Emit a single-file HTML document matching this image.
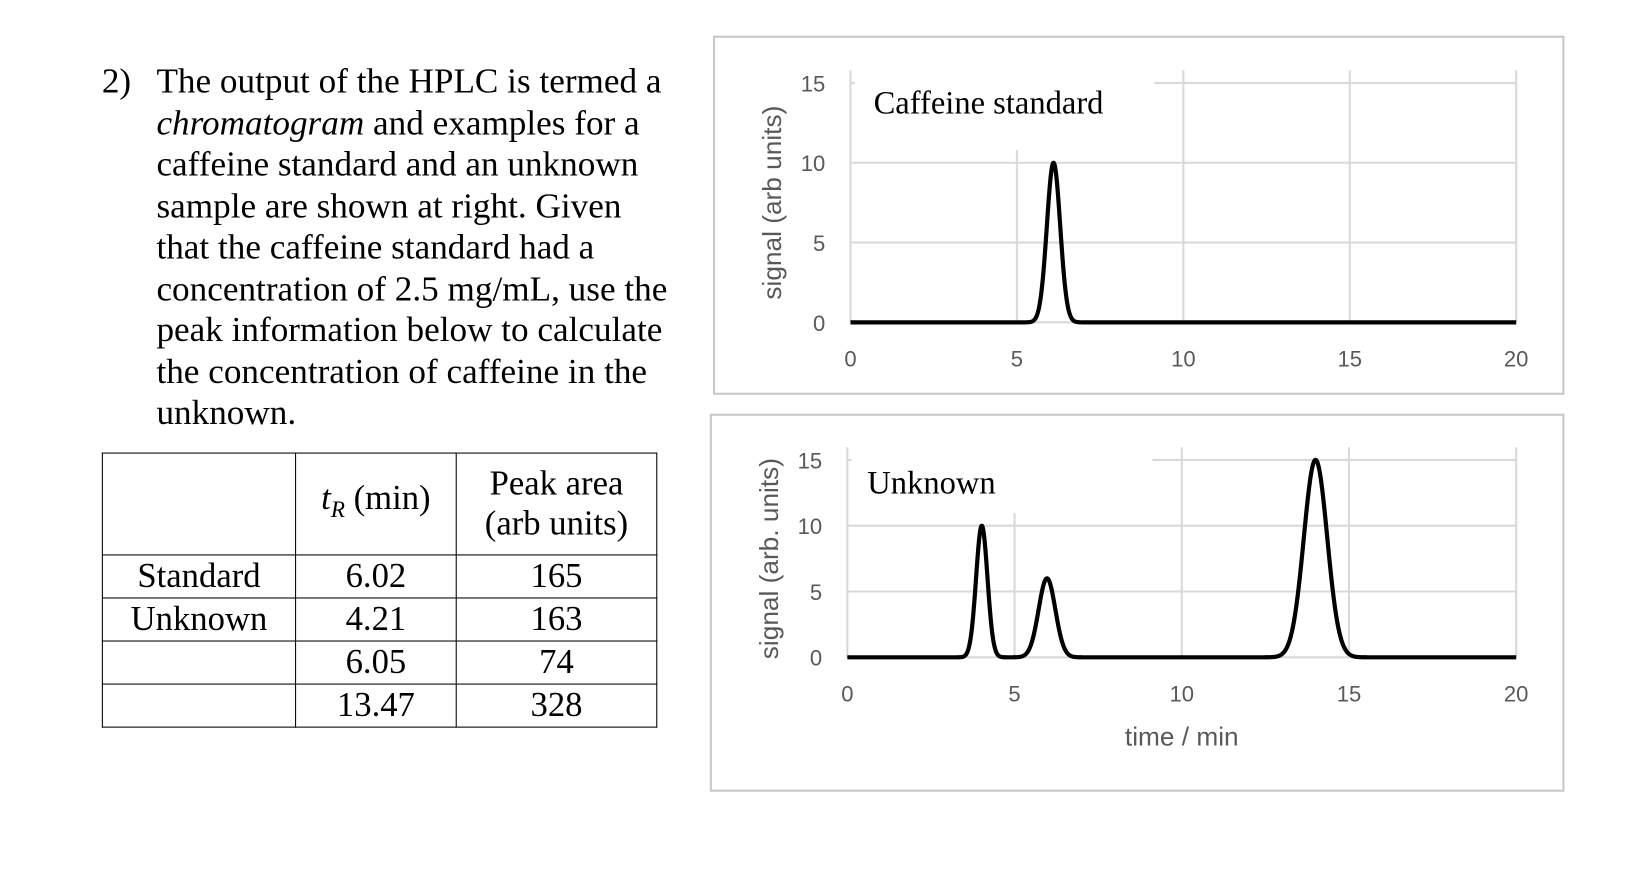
<!DOCTYPE html>
<html><head><meta charset="utf-8"><style>
body{margin:0;width:1646px;height:884px;background:#fff;position:relative;overflow:hidden;font-family:"Liberation Serif",serif;color:#000}
#wrap{position:absolute;left:0;top:0;width:1568px;height:842px;transform:scale(1.05);transform-origin:0 0}
.q{position:absolute;left:97px;top:58px;font-size:33.5px;line-height:39.5px}
.q .n{position:absolute;left:0;top:0}
.q .t{position:absolute;left:52px;top:0;width:560px;white-space:nowrap}
table{position:absolute;left:97px;top:431px;border-collapse:collapse;font-size:33px}
td{border:1.5px solid #000;text-align:center;padding:0;line-height:38px}
svg{position:absolute;left:0;top:0}
</style></head><body>
<div id="wrap">
<div class="q"><span class="n">2)</span><div class="t">The output of the HPLC is termed a<br><i>chromatogram</i> and examples for a<br>caffeine standard and an unknown<br>sample are shown at right. Given<br>that the caffeine standard had a<br>concentration of 2.5 mg/mL, use the<br>peak information below to calculate<br>the concentration of caffeine in the<br>unknown.</div></div>
<table>
<tr style="height:97px"><td style="width:183px"></td><td style="width:152px"><i>t<sub style="font-size:22px">R</sub></i> (min)</td><td style="width:190px">Peak area<br>(arb units)</td></tr>
<tr style="height:41px"><td>Standard</td><td>6.02</td><td>165</td></tr>
<tr style="height:41px"><td>Unknown</td><td>4.21</td><td>163</td></tr>
<tr style="height:41px"><td></td><td>6.05</td><td>74</td></tr>
<tr style="height:41px"><td></td><td>13.47</td><td>328</td></tr>
</table>
<svg id="s" width="1568" height="842" font-family="Liberation Sans, sans-serif"></svg>
</div>
<script>
const xTicks=[0,5,10,15,20];
const yTicks=[0,5,10,15];
const stdCenters=[6.1];
const stdHeights=[10];
const stdSigmas=[0.2];
const unkCenters=[4.02,5.97,14.0];
const unkHeights=[10,6,15];
const unkSigmas=[0.17,0.25,0.35];
const NS='http://www.w3.org/2000/svg';
const svg=document.getElementById('s');
function el(t,a,p){const e=document.createElementNS(NS,t);for(const k in a)e.setAttribute(k,a[k]);(p||svg).appendChild(e);return e;}
function chart(box,x0,x1,y0,y15,centers,heights,sigmas,label,ylab,name,lx,ly,showX){
 const g=el('g',{});
 
 
 const r=el('rect',{x:box[0],y:box[1],width:box[2],height:box[3],fill:'#fff',stroke:'#c8c8c8','stroke-width':2},g);
 
 
 const X=v=>x0+(x1-x0)*v/20, Y=v=>y0+(y15-y0)*v/15;
 yTicks.forEach(t=>{
  const l=el('line',{x1:X(0),x2:X(20),y1:Y(t),y2:Y(t),stroke:'#d9d9d9','stroke-width':2},g);
  
  
  const tx=el('text',{x:X(0)-24,y:Y(t)+8,'font-size':21,fill:'#595959','text-anchor':'end'},g);tx.textContent=t;
  
  
 });
 xTicks.forEach(t=>{
  const l=el('line',{x1:X(t),x2:X(t),y1:Y(15)-12,y2:Y(0),stroke:'#d9d9d9','stroke-width':2},g);
  
  
  const tx=el('text',{x:X(t),y:Y(0)+42,'font-size':21,fill:'#595959','text-anchor':'middle'},g);tx.textContent=t;
  
  
 });
 el('rect',{x:X(0)+4,y:Y(15)-14,width:X(9)-X(0),height:Y(10)-Y(15)+2,fill:'#fff'},g);
 const tl=el('text',{x:lx,y:ly,'font-size':31,'font-family':'Liberation Serif, serif'},g);tl.textContent=label;
 
 
 let d='';
 for(let i=0;i<=2000;i++){const v=20*i/2000;let s=0;centers.forEach((c,k)=>{s+=heights[k]*Math.exp(-((v-c)**2)/(2*sigmas[k]**2));});d+=(i?'L':'M')+X(v).toFixed(2)+' '+Y(s).toFixed(2);}
 const p=el('path',{d:d,fill:'none',stroke:'#000','stroke-width':4,'stroke-linejoin':'round'},g);
 
 
 const yl=el('text',{transform:`translate(${box[0]+64},${(Y(0)+Y(15))/2}) rotate(-90)`,'font-size':25,fill:'#595959','text-anchor':'middle'},g);yl.textContent=ylab;
 
 
 if(showX){const xl=el('text',{x:X(10),y:Y(0)+84,'font-size':25,fill:'#595959','text-anchor':'middle'},g);xl.textContent='time / min';
 
 }
}
chart([680,35,809,340],810,1444,307,79,stdCenters,stdHeights,stdSigmas,'Caffeine standard','signal (arb units)','standard-chart',832,108,false);
chart([677,395,812,358],807,1444,626,438,unkCenters,unkHeights,unkSigmas,'Unknown','signal (arb. units)','unknown-chart',826,470,true);
</script>
</body></html>
